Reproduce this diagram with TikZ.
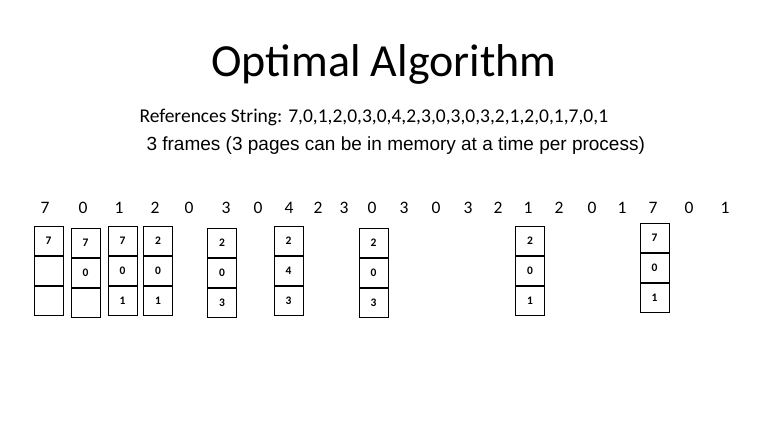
\documentclass[tikz,border=0pt]{standalone}
\usepackage{fontspec}
\setmainfont{Carlito}
\newfontfamily\arialf{Liberation Sans}
\begin{document}
\begin{tikzpicture}[x=1pt,y=-1pt,
  cell/.style={draw,line width=0.8pt,minimum width=29pt,minimum height=29pt,inner sep=0pt,font=\fontsize{11.5}{13}\selectfont\bfseries},
  refd/.style={font=\fontsize{17.5}{20}\selectfont}]
\useasboundingbox (0,0) rectangle (768,432);
\node (title) at (384,64) {\fontsize{46}{52}\selectfont Optimal Algorithm};
\node[anchor=west] (refs) at (136,117) {\fontsize{19.5}{22}\selectfont References String: 7,0,1,2,0,3,0,4,2,3,0,3,0,3,2,1,2,0,1,7,0,1};
\node[anchor=west] (frames) at (143,146) {\arialf\fontsize{19}{22}\selectfont 3 frames (3 pages can be in memory at a time per process)};
\foreach \d/\x [count=\i] in {7/45,0/83,1/119,2/155,0/189,3/226,0/258,4/289,2/318,3/344,0/372,3/404,0/436,3/468,2/498,1/528,2/559,0/592,1/622,7/653,0/689,1/725}
  \node[refd] (r\i) at (\x,208) {\d};
\foreach \x/\y/\a/\b/\c [count=\k] in {48.5/226/7//, 85.5/228/7/0/, 122.5/226/7/0/1, 158/226/2/0/1, 222/228/2/0/3, 288.5/226/2/4/3, 373.5/228/2/0/3, 530/226/2/0/1, 654.5/223/7/0/1}{
  \node[cell,anchor=north] (c\k a) at (\x,\y) {\a};
  \node[cell,anchor=north] (c\k b) at (c\k a.south) {\b};
  \node[cell,anchor=north] (c\k c) at (c\k b.south) {\c};
}
\end{tikzpicture}
\end{document}
